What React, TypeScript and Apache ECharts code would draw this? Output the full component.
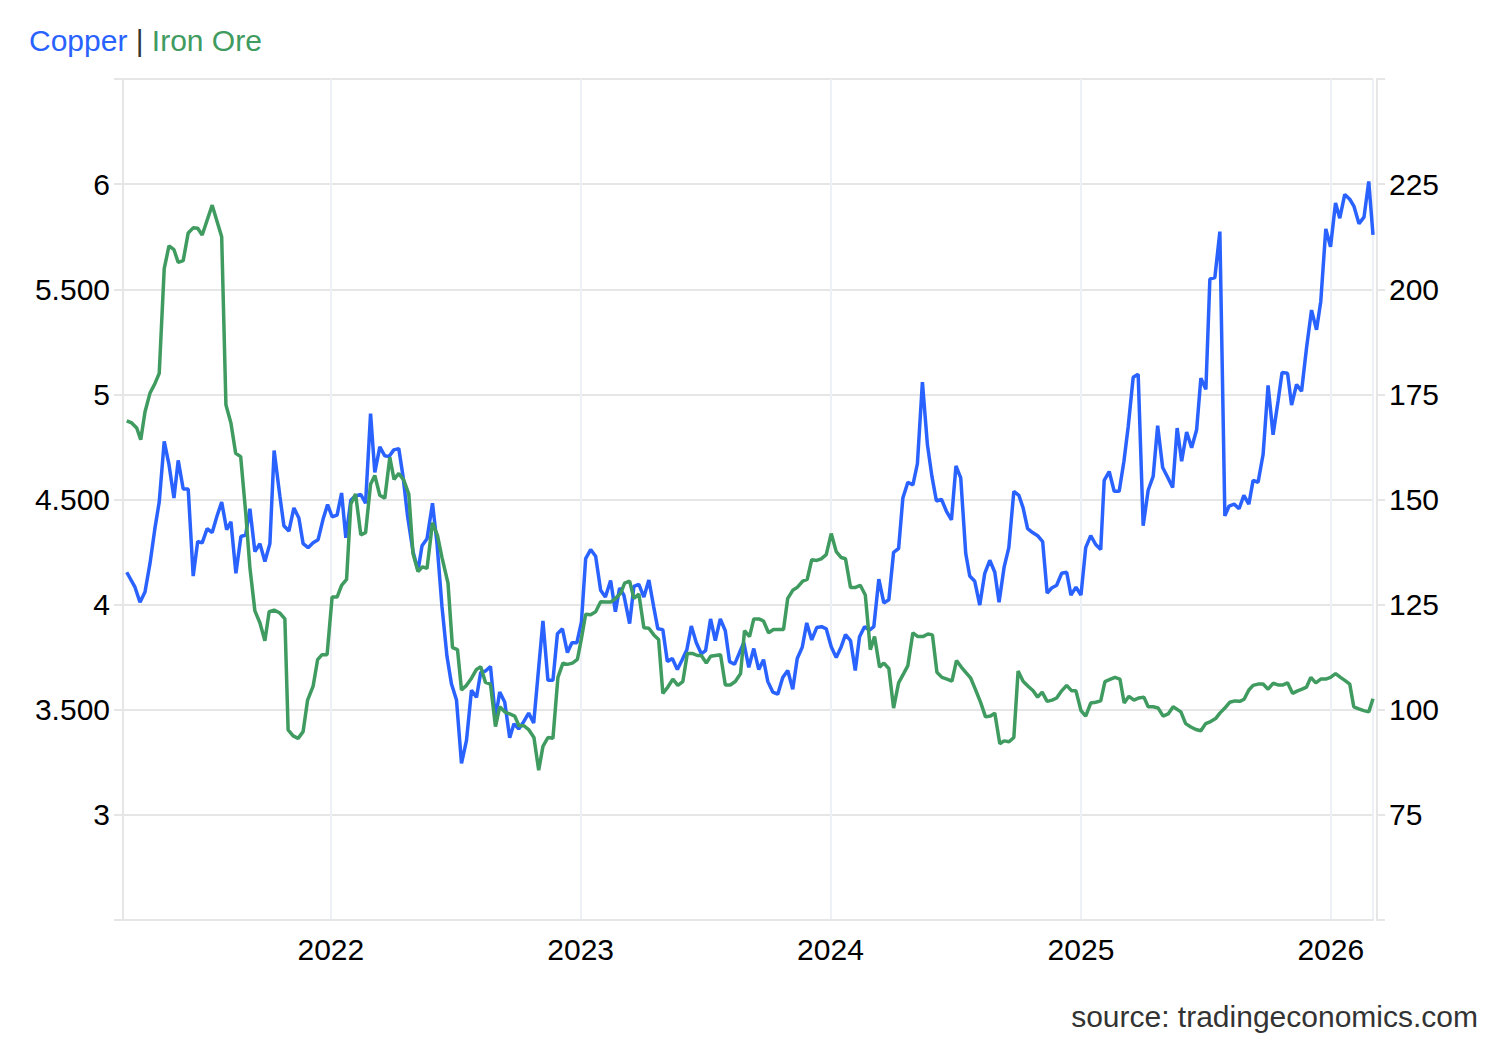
import React, { useEffect, useRef } from 'react';
import * as echarts from 'echarts';

// [decimal year, price]
const copperPoints: [number, number][] = [
  [2021.183,4.154],[2021.216,4.083],[2021.236,4.011],[2021.256,4.06],[2021.276,4.196],[2021.296,4.365],[2021.313,4.488],[2021.333,4.776],[2021.352,4.667],[2021.372,4.507],
  [2021.389,4.686],[2021.409,4.55],[2021.429,4.55],[2021.449,4.136],[2021.467,4.30],[2021.485,4.294],[2021.505,4.362],[2021.525,4.343],[2021.544,4.42],[2021.563,4.488],
  [2021.583,4.356],[2021.600,4.394],[2021.620,4.149],[2021.640,4.324],[2021.659,4.331],[2021.676,4.456],[2021.696,4.252],[2021.716,4.29],[2021.736,4.205],[2021.756,4.29],
  [2021.773,4.733],[2021.796,4.516],[2021.812,4.375],[2021.832,4.35],[2021.852,4.46],[2021.872,4.412],[2021.889,4.29],[2021.909,4.271],[2021.929,4.294],[2021.949,4.309],
  [2021.969,4.407],[2021.987,4.476],[2022.005,4.418],[2022.025,4.426],[2022.043,4.531],[2022.060,4.318],[2022.080,4.497],[2022.096,4.516],[2022.120,4.524],[2022.139,4.482],
  [2022.159,4.908],[2022.176,4.629],[2022.196,4.75],[2022.216,4.708],[2022.233,4.704],[2022.252,4.736],[2022.272,4.742],[2022.289,4.61],[2022.307,4.422],[2022.329,4.252],
  [2022.349,4.162],[2022.365,4.28],[2022.385,4.313],[2022.407,4.482],[2022.425,4.29],[2022.445,3.989],[2022.465,3.753],[2022.483,3.622],[2022.503,3.546],[2022.523,3.245],
  [2022.543,3.354],[2022.563,3.593],[2022.583,3.559],[2022.600,3.678],[2022.619,3.684],[2022.639,3.706],[2022.659,3.461],[2022.676,3.584],[2022.696,3.537],[2022.716,3.367],
  [2022.733,3.433],[2022.752,3.409],[2022.772,3.443],[2022.792,3.484],[2022.812,3.437],[2022.849,3.923],[2022.869,3.64],[2022.889,3.64],[2022.907,3.861],[2022.927,3.885],
  [2022.947,3.772],[2022.965,3.819],[2022.985,3.819],[2023.003,3.917],[2023.020,4.219],[2023.040,4.262],[2023.060,4.23],[2023.080,4.068],[2023.099,4.036],[2023.120,4.115],
  [2023.139,3.966],[2023.156,4.079],[2023.173,4.045],[2023.196,3.91],[2023.213,4.087],[2023.233,4.096],[2023.253,4.036],[2023.273,4.117],[2023.292,3.992],[2023.309,3.885],
  [2023.329,3.881],[2023.347,3.729],[2023.367,3.744],[2023.387,3.691],[2023.405,3.734],[2023.425,3.785],[2023.443,3.898],[2023.463,3.819],[2023.483,3.766],[2023.500,3.781],
  [2023.520,3.932],[2023.539,3.829],[2023.559,3.932],[2023.579,3.876],[2023.596,3.729],[2023.616,3.716],[2023.636,3.772],[2023.653,3.819],[2023.673,3.702],[2023.693,3.791],
  [2023.713,3.691],[2023.732,3.738],[2023.749,3.635],[2023.769,3.584],[2023.789,3.574],[2023.809,3.653],[2023.829,3.687],[2023.849,3.597],[2023.867,3.744],[2023.887,3.797],
  [2023.905,3.913],[2023.925,3.832],[2023.945,3.891],[2023.965,3.895],[2023.983,3.885],[2024.003,3.80],[2024.023,3.748],[2024.043,3.80],[2024.060,3.857],[2024.080,3.829],
  [2024.099,3.687],[2024.116,3.847],[2024.136,3.895],[2024.156,3.879],[2024.173,3.895],[2024.193,4.121],[2024.213,4.008],[2024.233,4.023],[2024.252,4.249],[2024.272,4.267],
  [2024.289,4.507],[2024.309,4.582],[2024.329,4.569],[2024.347,4.67],[2024.367,5.058],[2024.387,4.761],[2024.405,4.61],[2024.423,4.493],[2024.443,4.501],[2024.463,4.444],
  [2024.483,4.403],[2024.501,4.66],[2024.520,4.603],[2024.540,4.243],[2024.556,4.136],[2024.576,4.111],[2024.596,3.998],[2024.616,4.149],[2024.636,4.211],[2024.656,4.154],
  [2024.673,4.011],[2024.693,4.177],[2024.712,4.271],[2024.732,4.539],[2024.752,4.52],[2024.769,4.46],[2024.787,4.362],[2024.807,4.343],[2024.827,4.328],[2024.847,4.30],
  [2024.865,4.055],[2024.883,4.079],[2024.903,4.092],[2024.923,4.149],[2024.943,4.154],[2024.960,4.045],[2024.980,4.083],[2025.000,4.045],[2025.019,4.271],[2025.039,4.328],
  [2025.059,4.286],[2025.079,4.262],[2025.093,4.591],[2025.113,4.633],[2025.133,4.539],[2025.153,4.539],[2025.172,4.682],[2025.189,4.846],[2025.209,5.081],[2025.229,5.096],
  [2025.249,4.375],[2025.269,4.544],[2025.289,4.61],[2025.307,4.851],[2025.327,4.652],[2025.347,4.606],[2025.367,4.557],[2025.385,4.84],[2025.403,4.682],[2025.423,4.821],
  [2025.443,4.746],[2025.463,4.832],[2025.480,5.077],[2025.500,5.024],[2025.516,5.548],[2025.536,5.556],[2025.556,5.774],[2025.576,4.422],[2025.593,4.469],[2025.613,4.478],
  [2025.633,4.456],[2025.652,4.52],[2025.672,4.478],[2025.689,4.591],[2025.709,4.582],[2025.729,4.714],[2025.749,5.043],[2025.769,4.808],[2025.789,4.968],[2025.805,5.104],
  [2025.827,5.10],[2025.843,4.949],[2025.863,5.047],[2025.883,5.015],[2025.903,5.222],[2025.923,5.401],[2025.943,5.307],[2025.960,5.443],[2025.980,5.787],[2025.999,5.702],
  [2026.019,5.91],[2026.036,5.838],[2026.056,5.951],[2026.076,5.928],[2026.093,5.894],[2026.113,5.812],[2026.133,5.843],[2026.152,6.013],[2026.169,5.759],
];

// [decimal year, price]
const ironOrePoints: [number, number][] = [
  [2021.183,168.7],[2021.203,168.2],[2021.223,167.0],[2021.239,164.2],[2021.256,170.8],[2021.276,175.3],[2021.296,177.6],[2021.313,180.0],[2021.333,204.9],[2021.352,210.3],
  [2021.372,209.4],[2021.389,206.4],[2021.409,206.8],[2021.429,213.4],[2021.449,214.6],[2021.467,214.5],[2021.485,212.9],[2021.525,220.0],[2021.563,212.5],[2021.580,172.5],
  [2021.600,168.2],[2021.619,161.0],[2021.639,160.2],[2021.659,147.0],[2021.676,133.8],[2021.696,123.5],[2021.716,120.7],[2021.736,116.4],[2021.753,123.3],[2021.773,123.7],
  [2021.796,123.0],[2021.816,121.6],[2021.829,95.2],[2021.849,93.8],[2021.869,93.2],[2021.889,94.8],[2021.907,102.3],[2021.929,105.6],[2021.947,111.9],[2021.965,113.1],
  [2021.985,113.1],[2022.005,126.8],[2022.025,126.8],[2022.043,129.6],[2022.063,131.0],[2022.080,148.9],[2022.099,151.3],[2022.120,141.6],[2022.139,142.1],[2022.159,153.6],
  [2022.176,155.7],[2022.196,151.0],[2022.216,150.3],[2022.236,160.0],[2022.253,154.8],[2022.272,156.2],[2022.292,154.6],[2022.312,151.3],[2022.329,137.1],[2022.349,132.9],
  [2022.367,134.0],[2022.385,133.6],[2022.407,144.5],[2022.427,141.4],[2022.445,136.2],[2022.469,130.1],[2022.487,114.8],[2022.507,114.3],[2022.523,104.7],[2022.543,105.8],
  [2022.563,107.5],[2022.583,109.6],[2022.600,110.2],[2022.619,106.5],[2022.639,106.1],[2022.659,96.0],[2022.676,100.7],[2022.696,99.5],[2022.716,99.0],[2022.736,98.5],
  [2022.753,96.2],[2022.773,96.2],[2022.793,95.2],[2022.813,93.4],[2022.832,85.6],[2022.849,91.3],[2022.869,93.4],[2022.889,93.2],[2022.909,107.7],[2022.929,111.1],
  [2022.947,110.8],[2022.967,111.1],[2022.987,112.0],[2023.003,116.9],[2023.020,122.7],[2023.040,122.6],[2023.060,123.3],[2023.080,125.7],[2023.100,125.6],[2023.120,125.6],
  [2023.140,126.5],[2023.160,127.7],[2023.176,130.1],[2023.196,130.6],[2023.213,126.5],[2023.233,127.5],[2023.253,119.5],[2023.273,119.4],[2023.293,117.8],[2023.312,116.7],
  [2023.329,103.9],[2023.349,105.4],[2023.369,107.3],[2023.389,105.8],[2023.409,106.7],[2023.427,113.4],[2023.447,113.4],[2023.467,112.9],[2023.483,112.9],[2023.503,111.1],
  [2023.520,112.7],[2023.540,112.9],[2023.560,113.1],[2023.579,105.9],[2023.599,105.9],[2023.619,106.7],[2023.640,108.6],[2023.656,118.8],[2023.676,117.4],[2023.693,121.6],
  [2023.713,121.6],[2023.732,121.1],[2023.752,118.3],[2023.772,119.1],[2023.792,119.1],[2023.812,119.1],[2023.829,126.5],[2023.849,128.4],[2023.867,129.1],[2023.889,130.6],
  [2023.907,131.0],[2023.925,135.7],[2023.945,135.5],[2023.963,135.9],[2023.983,136.9],[2024.003,141.9],[2024.023,137.6],[2024.043,136.2],[2024.060,135.9],[2024.080,129.1],
  [2024.100,129.1],[2024.119,129.6],[2024.139,127.3],[2024.159,114.3],[2024.176,117.4],[2024.196,110.1],[2024.213,111.1],[2024.233,109.8],[2024.252,100.4],[2024.272,106.4],
  [2024.292,108.6],[2024.309,110.5],[2024.329,118.3],[2024.349,117.4],[2024.369,117.4],[2024.389,118.0],[2024.407,117.8],[2024.425,108.9],[2024.445,107.7],[2024.465,107.3],
  [2024.485,106.8],[2024.503,111.7],[2024.523,110.1],[2024.540,108.9],[2024.560,107.5],[2024.579,104.8],[2024.599,101.8],[2024.619,98.3],[2024.639,98.5],[2024.656,99.2],
  [2024.676,91.9],[2024.693,92.6],[2024.713,92.4],[2024.732,93.4],[2024.749,109.2],[2024.769,106.8],[2024.789,105.6],[2024.809,104.5],[2024.827,103.0],[2024.845,104.2],
  [2024.865,102.0],[2024.885,102.3],[2024.903,102.8],[2024.923,104.5],[2024.943,105.8],[2024.963,104.5],[2024.980,104.5],[2025.000,99.8],[2025.019,98.5],[2025.039,101.6],
  [2025.059,101.8],[2025.079,102.1],[2025.096,106.7],[2025.116,107.2],[2025.136,107.7],[2025.156,107.3],[2025.173,101.6],[2025.192,103.2],[2025.212,102.3],[2025.232,102.8],
  [2025.252,103.0],[2025.269,100.7],[2025.289,100.7],[2025.309,100.4],[2025.329,98.5],[2025.349,99.0],[2025.369,100.7],[2025.400,99.5],[2025.419,96.7],[2025.440,95.9],
  [2025.460,95.3],[2025.480,95.0],[2025.499,96.7],[2025.519,97.2],[2025.539,97.9],[2025.556,99.2],[2025.576,100.4],[2025.596,101.8],[2025.616,102.1],[2025.636,102.0],
  [2025.653,102.5],[2025.672,104.7],[2025.689,105.8],[2025.709,106.1],[2025.729,106.1],[2025.749,104.9],[2025.769,106.3],[2025.789,105.9],[2025.809,105.9],[2025.827,106.4],
  [2025.847,103.9],[2025.867,104.5],[2025.885,104.9],[2025.903,105.4],[2025.920,107.7],[2025.940,106.4],[2025.960,107.3],[2025.980,107.3],[2025.999,107.7],[2026.019,108.6],
  [2026.039,107.7],[2026.056,107.0],[2026.076,106.1],[2026.092,100.7],[2026.112,100.2],[2026.132,99.8],[2026.152,99.5],[2026.169,102.6],
];

const xRange = [2021.168, 2026.169];
const leftAxisLabels: Record<string, string> = { '3': '3', '3.5': '3.500', '4': '4', '4.5': '4.500', '5': '5', '5.5': '5.500', '6': '6' };
const rightAxisLabels = [75, 100, 125, 150, 175, 200, 225];

const COPPER = '#2962ff';
const IRON = '#3f9b5f';
const FONT = "'Liberation Sans', Arial, Helvetica, sans-serif";
const FS = 30;
const YEAR_MS = 365.25 * 24 * 3600 * 1000;

function toTime(y: number): number {
  const yr = Math.floor(y);
  const a = Date.UTC(yr, 0, 1);
  const b = Date.UTC(yr + 1, 0, 1);
  return a + (y - yr) * (b - a);
}

export default function App() {
  const ref = useRef<HTMLDivElement>(null);
  useEffect(() => {
    if (!ref.current) return;
    const chart = echarts.init(ref.current, null, { renderer: 'svg' });
    const gridColor = '#e6e6e6';
    chart.setOption({
      animation: false,
      backgroundColor: '#ffffff',
      grid: { left: 123, right: 127, top: 79, bottom: 120, containLabel: false, outerBoundsMode: 'none' },
      xAxis: {
        type: 'time',
        min: toTime(xRange[0]),
        max: toTime(xRange[1]),
        minInterval: YEAR_MS * 0.99,
        maxInterval: YEAR_MS * 1.01,
        axisLine: { show: true, lineStyle: { color: gridColor, width: 2 } },
        axisTick: { show: false },
        axisLabel: {
          color: '#000',
          fontSize: FS,
          fontFamily: FONT,
          margin: 14,
          formatter: (v: number) => String(new Date(v).getUTCFullYear()),
        },
        splitLine: { show: true, lineStyle: { color: '#edf0f5', width: 2 } },
      },
      yAxis: [
        {
          type: 'value',
          position: 'left',
          min: 2.5,
          max: 6.5,
          interval: 0.5,
          axisLine: { show: true, lineStyle: { color: gridColor, width: 2 } },
          axisTick: { show: true, length: 9, lineStyle: { color: gridColor, width: 2 } },
          axisLabel: {
            color: '#000',
            fontSize: FS,
            fontFamily: FONT,
            margin: 13,
            formatter: (v: number) => leftAxisLabels[String(v)] ?? '',
          },
          splitLine: { show: true, lineStyle: { color: gridColor, width: 2 } },
        },
        {
          type: 'value',
          position: 'right',
          offset: 4,
          min: 50,
          max: 250,
          interval: 25,
          axisLine: { show: true, lineStyle: { color: gridColor, width: 2 } },
          axisTick: { show: true, length: 8, lineStyle: { color: gridColor, width: 2 } },
          axisLabel: {
            color: '#000',
            fontSize: FS,
            fontFamily: FONT,
            margin: 12,
            formatter: (v: number) => (rightAxisLabels.includes(v) ? String(v) : ''),
          },
          splitLine: { show: false },
        },
      ],
      graphic: [
        {
          type: 'text',
          x: 29,
          y: 40,
          style: {
            text: '{a|Copper} {b||} {c|Iron Ore}',
            verticalAlign: 'middle',
            font: `${FS}px ${FONT}`,
            rich: {
              a: { fill: COPPER, fontSize: FS, fontFamily: FONT },
              b: { fill: '#333', fontSize: FS, fontFamily: FONT },
              c: { fill: IRON, fontSize: FS, fontFamily: FONT },
            },
          },
        },
        {
          type: 'text',
          x: 1478,
          y: 1016,
          style: {
            text: 'source: tradingeconomics.com',
            align: 'right',
            verticalAlign: 'middle',
            fill: '#333',
            font: `${FS}px ${FONT}`,
          },
        },
      ],
      series: [
        {
          name: 'Copper',
          type: 'line',
          yAxisIndex: 0,
          showSymbol: false,
          lineStyle: { color: COPPER, width: 3.5 },
          itemStyle: { color: COPPER },
          data: copperPoints.map(([t, v]) => [toTime(t), v]),
          z: 3,
        },
        {
          name: 'Iron Ore',
          type: 'line',
          yAxisIndex: 1,
          showSymbol: false,
          lineStyle: { color: IRON, width: 3.5 },
          itemStyle: { color: IRON },
          data: ironOrePoints.map(([t, v]) => [toTime(t), v]),
          z: 4,
        },
      ],
    });
    return () => chart.dispose();
  }, []);
  return (
    <div
      ref={ref}
      style={{ position: 'absolute', left: 0, top: 0, width: 1500, height: 1040, background: '#fff' }}
    />
  );
}
